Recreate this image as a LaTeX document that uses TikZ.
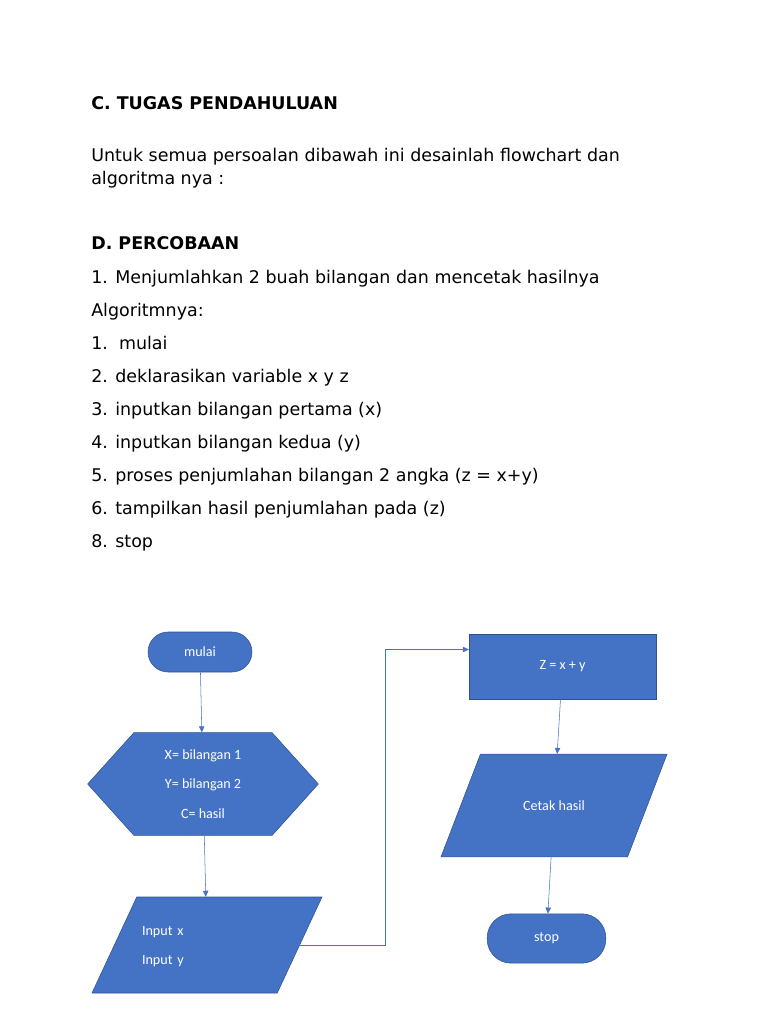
\documentclass[tikz,border=0pt]{standalone}
\usepackage{fontspec}
\setmainfont{DejaVu Sans}
\newfontfamily\boxfont{Carlito}
\usetikzlibrary{positioning,arrows.meta,shapes.geometric,shapes.symbols}
\definecolor{officeblue}{HTML}{4472C4}
\definecolor{officeedge}{HTML}{2F528F}

\begin{document}
\begin{tikzpicture}[x=0.75pt,y=-0.75pt,
t/.style={anchor=base west,inner sep=0pt,font=\fontsize{13.1}{15}\selectfont},
hd/.style={t,font=\fontsize{13.1}{15}\selectfont\bfseries},
b/.style={draw=officeedge,fill=officeblue,text=white,font=\boxfont\fontsize{10.6}{22}\selectfont,inner sep=0pt,align=center},
term/.style={b,rounded corners=15pt,minimum width=78pt,minimum height=30pt},
io/.style={b,trapezium,trapezium stretches body=true,text height=7pt},
a/.style={-{Triangle[length=4.5pt,width=4pt]},draw=officeblue,thin}]
\useasboundingbox (0,0) rectangle (768,1024);
% tugas dan algoritma
\node[hd](tugas) at (91,109){C. TUGAS PENDAHULUAN};
\node[t](soal1) at (91,161){Untuk semua persoalan dibawah ini desainlah flowchart dan};
\node[t](soal2) at (91,184){algoritma nya :};
\node[hd](coba) at (91,249){D. PERCOBAAN};
\node[t](judul) at (91,283){1. Menjumlahkan 2 buah bilangan dan mencetak hasilnya};
\foreach \n/\y/\s in {alg/316/Algoritmnya:,l1/349/1.\ \ mulai,l2/382/2. deklarasikan variable x y z,l3/415/3. inputkan bilangan pertama (x),l4/448/4. inputkan bilangan kedua (y),l5/481/5. proses penjumlahan bilangan 2 angka (z = x+y),l6/514/6. tampilkan hasil penjumlahan pada (z),l8/547/8. stop}
  \node[t](\n) at (91,\y){\s};
% flowchart
\node[term](mulai) at (200,652){mulai};
\node[b,signal,signal to=west and east,signal pointer angle=96,minimum width=173pt,minimum height=77pt](dekl) at (203,784){X= bilangan 1\\Y= bilangan 2\\C= hasil};
\node[io,trapezium left angle=65,trapezium right angle=115,minimum width=172.5pt,text depth=22pt,inner ysep=21.5pt,text width=97.5pt,align=left](inp) at (207,945){Input x\\Input y};
\node[b,minimum width=140pt,minimum height=49pt](proses) at (562.5,666.5){Z = x + y};
\node[io,trapezium left angle=69,trapezium right angle=111,minimum width=169.5pt,text depth=0pt,inner ysep=35pt](cetak) at (554,805.5){Cetak hasil};
\node[term,rounded corners=18pt,minimum width=89pt,minimum height=37pt](stop) at (546.5,938.5){stop};
\foreach \p/\q in {mulai/dekl,dekl/inp,proses/cetak,cetak/stop}\draw[a](\p)--(\q);
\draw[a](inp.east)-|([xshift=-63pt,yshift=12.75pt]proses.west)--([yshift=12.75pt]proses.west);
\end{tikzpicture}
\end{document}
